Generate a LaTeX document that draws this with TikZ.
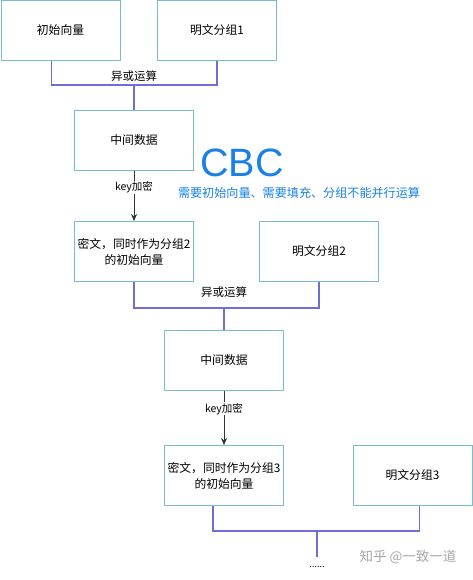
\documentclass[tikz,border=0pt]{standalone}
\usepackage{fontspec}
\setmainfont{Noto Sans CJK SC}
\newfontfamily\titlefont{Liberation Sans}
\usetikzlibrary{arrows.meta}
\definecolor{boxline}{RGB}{120,188,208}
\definecolor{xorline}{RGB}{110,110,215}
\definecolor{cbcblue}{RGB}{24,128,230}
\begin{document}
\begin{tikzpicture}[x=1pt, y=-1pt,
        blockbox/.style={draw=boxline, line width=0.9pt, fill=white, align=center,
            minimum width=119pt, minimum height=60pt, inner sep=1pt,
            font=\fontsize{11.8}{16}\selectfont},
        xorline/.style={draw=xorline, line width=1.8pt},
        oplabel/.style={font=\fontsize{11.5}{14}\selectfont, inner sep=1pt},
        enc/.style={draw=black!80, line width=0.8pt, -{Stealth[length=7pt, width=6pt]}}]
        \useasboundingbox (0,0) rectangle (473,580);
        \path (60.5, 30.5)  node[blockbox] (iv)  {初始向量};
        \path (217, 30.5)   node[blockbox] (p1)  {明文分组1};
        \path (134, 140.5)  node[blockbox] (m1)  {中间数据};
        \path (134, 251.5)  node[blockbox] (c2)  {密文，同时作为分组2\\的初始向量};
        \path (319, 251.5)  node[blockbox] (p2)  {明文分组2};
        \path (224, 360.5)  node[blockbox] (m2)  {中间数据};
        \path (224, 475.5)  node[blockbox] (c3)  {密文，同时作为分组3\\的初始向量};
        \path (412.5, 475.5) node[blockbox] (p3) {明文分组3};

        \coordinate (j1) at (134, 85);
        \coordinate (j2) at (224, 308);
        \coordinate (j3) at (317, 531);
        \coordinate (e3) at (317, 557);

        % xor brackets
        \draw[xorline] ([xshift=-9pt]iv.south) |- (j1) -| (p1.south);
        \draw[xorline] (j1) -- (m1.north);
        \draw[xorline] (c2.south) |- (j2) -| (p2.south);
        \draw[xorline] (j2) -- (m2.north);
        \draw[xorline] ([xshift=-11pt]c3.south) |- (j3) -| ([xshift=7pt]p3.south);
        \draw[xorline] (j3) -- (e3);

        \path (134, 76)  node[oplabel] (x1) {异或运算};
        \path (224, 292) node[oplabel] (x2) {异或运算};

        % key encryption
        \draw[enc] (m1) -- node[pos=0.33, fill=white, oplabel, font=\fontsize{10.5}{12}\selectfont] (k1) {key加密} (c2);
        \draw[enc] (m2) -- node[pos=0.33, fill=white, oplabel, font=\fontsize{10.5}{12}\selectfont] (k2) {key加密} (c3);

        \path (317, 567) node[oplabel, font=\fontsize{9}{10}\selectfont] (more) {......};

        \path (242, 163) node[text=cbcblue, font=\titlefont\fontsize{39.5}{40}\selectfont] (cbc) {CBC};
        \path (299, 193) node[text=cbcblue, font=\fontsize{12.1}{14}\selectfont] (note) {需要初始向量、需要填充、分组不能并行运算};

        \path (408, 557) node[text=black!35, font=\fontsize{13.5}{15}\selectfont] (mark) {知乎 @一致一道};
    \end{tikzpicture}
\end{document}
